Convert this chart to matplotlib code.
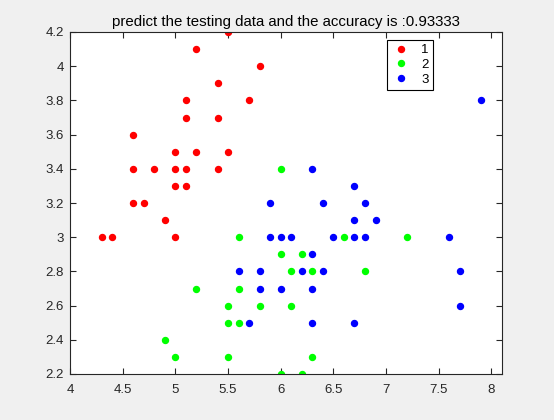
import numpy as np
import matplotlib.pyplot as plt
from matplotlib.ticker import FixedLocator

plt.rcParams['font.family'] = ['Liberation Sans', 'DejaVu Sans']

# class 1 (red)
x1 = [5.5, 5.2, 5.8, 5.4, 5.1, 5.7, 5.1, 5.4, 4.6, 5.0, 5.2, 5.5, 4.6, 4.8, 5.0,
      5.1, 5.4, 5.0, 5.1, 4.6, 4.7, 4.9, 4.3, 4.4, 5.0]
y1 = [4.2, 4.1, 4.0, 3.9, 3.8, 3.8, 3.7, 3.7, 3.6, 3.5, 3.5, 3.5, 3.4, 3.4, 3.4,
      3.4, 3.4, 3.3, 3.3, 3.2, 3.2, 3.1, 3.0, 3.0, 3.0]

# class 2 (green)
x2 = [5.6, 5.2, 5.6, 5.5, 5.8, 5.5, 5.6, 4.9, 5.0, 5.5, 6.0, 6.6, 6.0, 6.2,
      6.1, 6.3, 6.8, 6.1, 6.3, 6.0, 6.2, 7.2]
y2 = [3.0, 2.7, 2.7, 2.6, 2.6, 2.5, 2.5, 2.4, 2.3, 2.3, 3.4, 3.0, 2.9, 2.9,
      2.8, 2.8, 2.8, 2.6, 2.3, 2.2, 2.2, 3.0]

# class 3 (blue)
x3 = [5.6, 5.8, 5.8, 5.7, 6.3, 6.7, 5.9, 6.4, 6.8, 6.7, 6.9, 5.9, 6.0, 6.1,
      6.5, 6.7, 6.8, 6.3, 6.2, 6.4, 6.0, 6.3, 6.3, 6.7, 7.9, 7.6, 7.7, 7.7]
y3 = [2.8, 2.8, 2.7, 2.5, 3.4, 3.3, 3.2, 3.2, 3.2, 3.1, 3.1, 3.0, 3.0, 3.0,
      3.0, 3.0, 3.0, 2.9, 2.8, 2.8, 2.7, 2.7, 2.5, 2.5, 3.8, 3.0, 2.8, 2.6]

accuracy = 0.93333
xticks = [4, 4.5, 5, 5.5, 6, 6.5, 7, 7.5, 8]
yticks = [2.2, 2.4, 2.6, 2.8, 3, 3.2, 3.4, 3.6, 3.8, 4, 4.2]

fig = plt.figure(figsize=(5.54, 4.2), dpi=100, facecolor='#f0f0f0')
ax = fig.add_axes([70/554, 46/420, 432/554, 342/420])

ax.plot(x1, y1, 'o', color='#ff0000', ms=4.3, label='1')
ax.plot(x2, y2, 'o', color='#00ff00', ms=4.3, label='2')
ax.plot(x3, y3, 'o', color='#0000ff', ms=4.3, label='3')

ax.set_xlim(4, 8.1)
ax.set_ylim(2.2, 4.2)
ax.xaxis.set_major_locator(FixedLocator(xticks))
ax.yaxis.set_major_locator(FixedLocator(yticks))
ax.set_xticklabels([f'{t:g}' for t in xticks])
ax.set_yticklabels([f'{t:g}' for t in yticks])

edge = '#262626'
for s in ax.spines.values():
    s.set_color(edge)
    s.set_linewidth(0.8)
ax.tick_params(direction='in', top=True, right=True, length=4, width=0.8,
               colors=edge, labelsize=9.5)
ax.tick_params(axis='x', pad=7.5)
ax.tick_params(axis='y', pad=4.5)
ax.set_title(f'predict the testing data and the accuracy is :{accuracy:.5f}',
             fontsize=10.8, color='#000000', pad=4)

leg = ax.legend(loc='upper left', bbox_to_anchor=(317/432, 1 - 8/342),
                fancybox=False, edgecolor='#000000', framealpha=1,
                fontsize=9.5, handlelength=1.5, handletextpad=0.8,
                borderpad=0.3, labelspacing=0.2, borderaxespad=0)
leg.get_frame().set_linewidth(0.8)

fig.savefig('out.png', dpi=100, facecolor=fig.get_facecolor())
